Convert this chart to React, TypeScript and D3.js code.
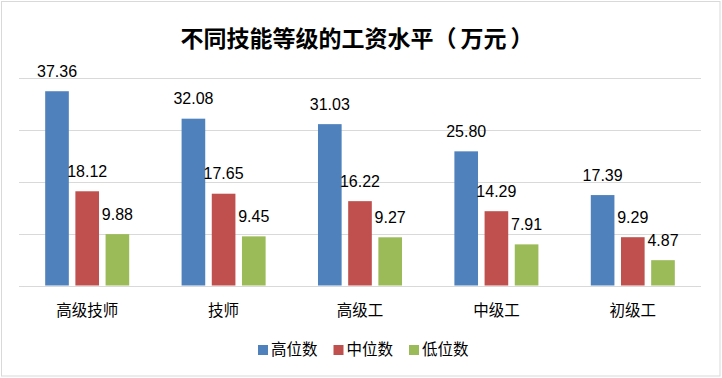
import React from "react";
import * as d3 from "d3";

const categories = ["高级技师", "技师", "高级工", "中级工", "初级工"];
const seriesNames = ["高位数", "中位数", "低位数"];
const highValues = [37.36, 32.08, 31.03, 25.8, 17.39];
const midValues = [18.12, 17.65, 16.22, 14.29, 9.29];
const lowValues = [9.88, 9.45, 9.27, 7.91, 4.87];
const yTicks = [0, 10, 20, 30, 40];
const colors = ["#4F81BD", "#C0504D", "#9BBB59"];
const titleMain = "不同技能等级的工资水平";
const titleUnit = "万元";

const W = 722;
const H = 378;
const CJK = "'Noto Sans CJK SC', 'Noto Sans', sans-serif";
const NUM = "'Liberation Sans', 'Noto Sans', sans-serif";

export default function App() {
  const series = [highValues, midValues, lowValues];
  const x0 = d3
    .scaleBand<string>()
    .domain(categories)
    .range([19, 701])
    .paddingInner(0.384)
    .paddingOuter(0.192);
  const x1 = d3
    .scaleBand<number>()
    .domain([0, 1, 2])
    .range([0, x0.bandwidth()])
    .paddingInner(0.217);
  const y = d3.scaleLinear().domain([0, 40]).range([285.5, 77.5]);

  return (
    <svg
      width={W}
      height={H}
      style={{ position: "absolute", left: 0, top: 0, display: "block" }}
    >
      <rect x={0} y={0} width={W} height={H} fill="#fff" />
      <rect
        x={1.5}
        y={1.5}
        width={718.5}
        height={374.5}
        fill="#fff"
        stroke="#D9D9D9"
        strokeWidth={1}
      />
      <text
        x={357}
        y={47}
        textAnchor="middle"
        fontFamily={CJK}
        fontWeight="bold"
        fontSize={23}
        fill="#000"
      >
        <tspan>{titleMain}</tspan>
        <tspan>（</tspan>
        <tspan dx={4}>{titleUnit}</tspan>
        <tspan dx={4}>）</tspan>
      </text>
      {yTicks.map((t) => (
        <line
          key={t}
          x1={19}
          x2={701}
          y1={Math.round(y(t)) + 0.5}
          y2={Math.round(y(t)) + 0.5}
          stroke="#D9D9D9"
          strokeWidth={1}
        />
      ))}
      {categories.map((c, ci) => (
        <g key={c} transform={`translate(${x0(c)},0)`}>
          {series.map((vals, si) => {
            const v = vals[ci];
            const bx = x1(si)!;
            const bw = x1.bandwidth();
            return (
              <g key={si}>
                <rect
                  x={bx}
                  y={y(v)}
                  width={bw}
                  height={y(0) - y(v)}
                  fill={colors[si]}
                />
                <text
                  x={bx + bw / 2}
                  y={y(v) - 14.5}
                  textAnchor="middle"
                  fontFamily={NUM}
                  fontSize={16}
                  fill="#000"
                >
                  {v.toFixed(2)}
                </text>
              </g>
            );
          })}
          <text
            x={x0.bandwidth() / 2}
            y={316}
            textAnchor="middle"
            fontFamily={CJK}
            fontSize={15.5}
            fill="#000"
          >
            {c}
          </text>
        </g>
      ))}
      {seriesNames.map((n, i) => {
        const lx = 258 + i * 75.5;
        return (
          <g key={n}>
            <rect x={lx} y={345} width={10} height={10} fill={colors[i]} />
            <text
              x={lx + 13}
              y={355}
              fontFamily={CJK}
              fontSize={15.5}
              fill="#000"
            >
              {n}
            </text>
          </g>
        );
      })}
    </svg>
  );
}
